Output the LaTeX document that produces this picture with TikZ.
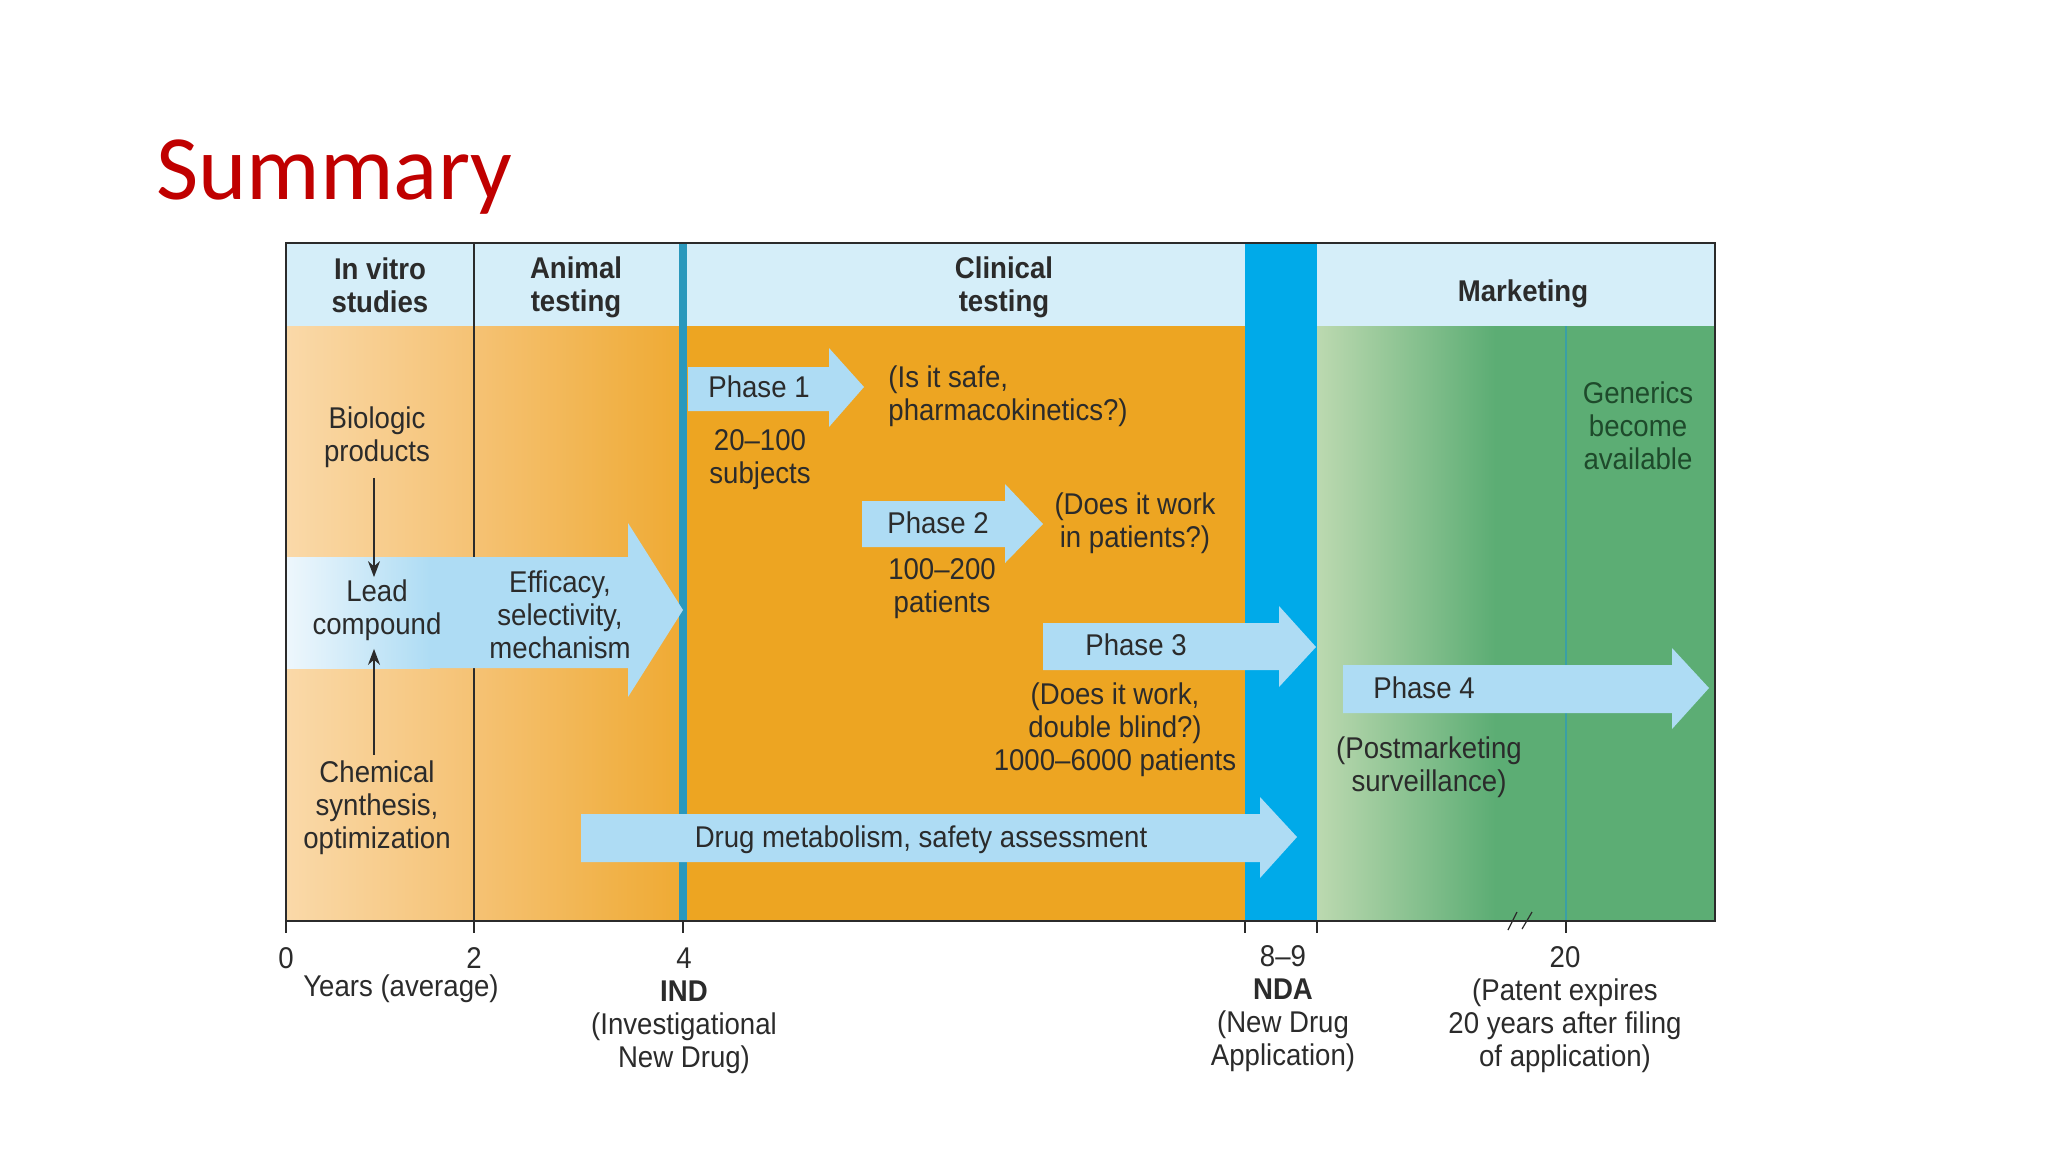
\documentclass[tikz,border=0pt]{standalone}
\usepackage{fontspec}
\setmainfont{Liberation Sans}[FakeStretch=0.92]
\newfontfamily\titlefont{Carlito}
\usetikzlibrary{arrows.meta}
\definecolor{hdr}{HTML}{D5EEF9}
\definecolor{arr}{HTML}{AEDCF4}
\definecolor{arrpale}{HTML}{EEF7FC}
\definecolor{ndablue}{HTML}{00AAE9}
\definecolor{orng}{HTML}{EDA522}
\definecolor{peach}{HTML}{FAD9A9}
\definecolor{peachb}{HTML}{F5C274}
\definecolor{orngb}{HTML}{EFAA33}
\definecolor{grnpale}{HTML}{BCD9B0}
\definecolor{grn}{HTML}{5CAD74}
\definecolor{txt}{HTML}{2B2B2B}
\definecolor{gentxt}{HTML}{1E4A2B}
\definecolor{ttl}{HTML}{C00000}
\definecolor{indline}{HTML}{2A98BC}
\definecolor{genline}{HTML}{3A9FA5}
\begin{document}
\begin{tikzpicture}[x=0.5pt,y=-0.5pt,
  lbl/.style={inner sep=0pt, align=center, text=txt, font=\fontsize{15}{16.5}\selectfont},
  hlbl/.style={lbl, font=\fontsize{15}{16.5}\selectfont\bfseries},
  vline/.style={draw=txt, line width=0.8pt, -{Stealth[length=8pt,width=6pt]}},
  tick/.style={draw=txt, line width=0.8pt},
  bigarrow/.style={fill=arr}]
\fill[white] (0,0) rectangle (2048,1152);
\useasboundingbox (0,0) rectangle (2048,1152);

% title
\node[anchor=base west, inner sep=0pt, text=ttl, font=\titlefont\fontsize{46}{50}\selectfont] (title) at (156,199) {Summary};

% backgrounds
\shade[left color=peach, right color=peachb] (286,326) rectangle (474,921);
\shade[left color=peachb, right color=orngb] (474,326) rectangle (683,921);
\fill[orng] (683,326) rectangle (1245,921);
\fill[ndablue] (1245,243) rectangle (1317,921);
\shade[left color=grnpale, right color=grn] (1317,326) rectangle (1495,921);
\fill[grn] (1495,326) rectangle (1715,921);
\fill[hdr] (286,243) rectangle (1245,326);
\fill[hdr] (1317,243) rectangle (1715,326);

% divider lines
\draw[draw=txt, line width=0.8pt] (474,243) -- (474,921);
\draw[draw=indline, line width=4pt] (683,243) -- (683,921);
\draw[draw=genline, line width=1.2pt] (1566,326) -- (1566,921);

% big arrows
\fill[bigarrow] (286,557) -- (628,557) -- (628,523) -- (683,610) -- (628,697) -- (628,668) -- (286,668) -- cycle;
\shade[left color=arrpale, right color=arr] (286,557) rectangle (430,668);
\fill[bigarrow] (688,367) -- (829,367) -- (829,348) -- (864,387) -- (829,427) -- (829,411) -- (688,411) -- cycle;
\fill[bigarrow] (862,501) -- (1005,501) -- (1005,484) -- (1043,524) -- (1005,563) -- (1005,547) -- (862,547) -- cycle;
\fill[bigarrow] (1043,623) -- (1279,623) -- (1279,606) -- (1316,647) -- (1279,687) -- (1279,670) -- (1043,670) -- cycle;
\fill[bigarrow] (1343,665) -- (1672,665) -- (1672,648) -- (1709,688) -- (1672,729) -- (1672,713) -- (1343,713) -- cycle;
\fill[bigarrow] (581,814) -- (1260,814) -- (1260,797) -- (1297,837) -- (1260,878) -- (1260,862) -- (581,862) -- cycle;

% border and ticks
\draw[draw=txt, line width=1pt] (286,243) rectangle (1715,921);
\foreach \x in {286,474,683,1245,1317,1566} \draw[tick] (\x,921) -- (\x,933);
\draw[draw=txt, line width=0.6pt] (1508,930) -- (1517,912);
\draw[draw=txt, line width=0.6pt] (1522,929) -- (1532,912);

% header labels
\node[hlbl] (hvitro) at (380,285) {In vitro\\studies};
\node[hlbl] (hanimal) at (576,287) {Animal\\testing};
\node[hlbl] (hclin) at (1004,287) {Clinical\\testing};
\node[hlbl] (hmkt) at (1523,294) {Marketing};

% body labels
\node[lbl] (bio) at (377,437) {Biologic\\products};
\node[lbl] (lead) at (377,610) {Lead\\compound};
\node[lbl] (chem) at (377,808) {Chemical\\synthesis,\\optimization};
\node[lbl] (eff) at (560,615) {Efficacy,\\selectivity,\\mechanism};
\node[lbl] (p1) at (759,387) {Phase 1};
\node[lbl] (p1n) at (760,460) {20–100\\subjects};
\node[lbl, anchor=west, align=left] (p1q) at (888,396) {(Is it safe,\\pharmacokinetics?)};
\node[lbl] (p2) at (938,523) {Phase 2};
\node[lbl] (p2n) at (942,589) {100–200\\patients};
\node[lbl] (p2q) at (1135,523) {(Does it work\\in patients?)};
\node[lbl] (p3) at (1136,645) {Phase 3};
\node[lbl] (p3q) at (1115,730) {(Does it work,\\double blind?)\\1000–6000 patients};
\node[lbl] (p4) at (1424,688) {Phase 4};
\node[lbl] (p4q) at (1429,767) {(Postmarketing\\surveillance)};
\node[lbl, text=gentxt] (gen) at (1638,426) {Generics\\become\\available};
\node[lbl] (drug) at (921,840) {Drug metabolism, safety assessment};

\draw[vline, shorten <=5pt, shorten >=1pt] ([xshift=-1.5pt]bio.south) -- ([xshift=-1.5pt]lead.north);
\draw[vline, shorten <=3pt, shorten >=4pt] ([xshift=-1.5pt]chem.north) -- ([xshift=-1.5pt]lead.south);

% axis labels
\node[lbl] (t0) at (286,958) {0};
\node[lbl] (t2) at (474,958) {2};
\node[lbl] (years) at (401,989) {Years (average)};
\node[lbl] (t4) at (684,1011) {4\\\textbf{IND}\\(Investigational\\New Drug)};
\node[lbl] (t8) at (1283,1009) {8–9\\\textbf{NDA}\\(New Drug\\Application)};
\node[lbl] (t20) at (1565,1010) {20\\(Patent expires\\20 years after filing\\of application)};
\end{tikzpicture}
\end{document}
